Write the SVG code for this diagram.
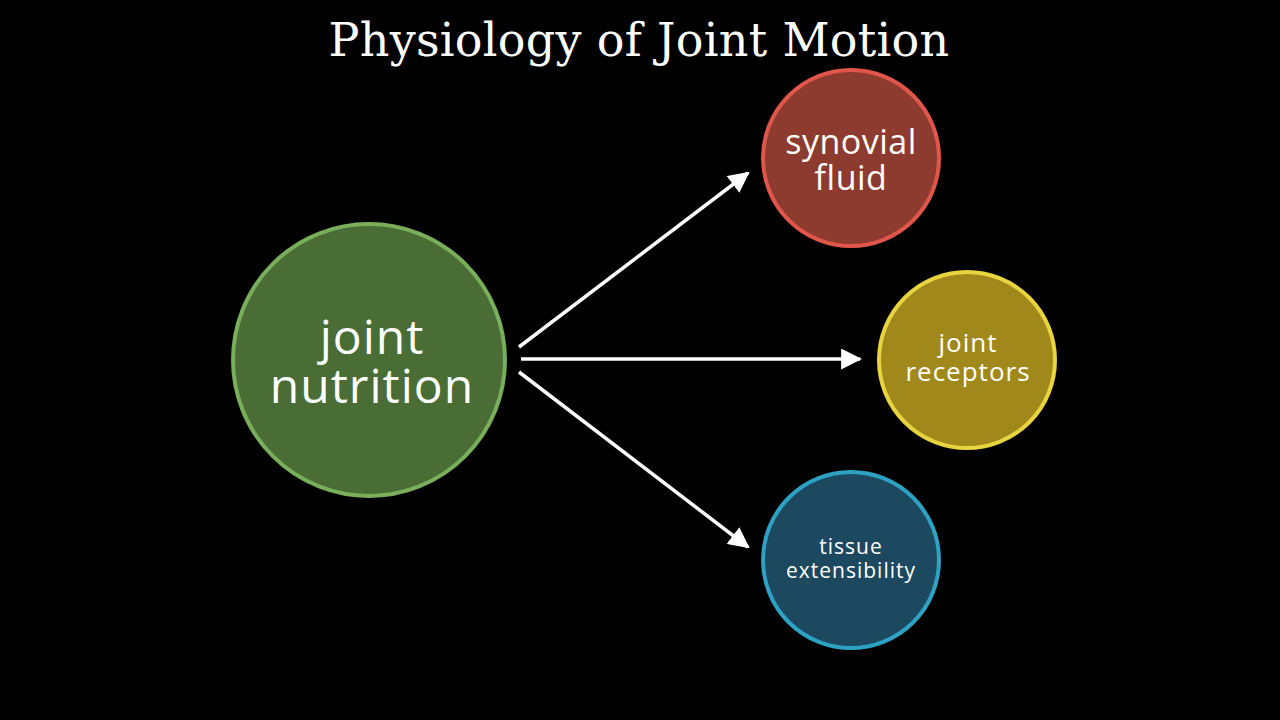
<svg xmlns="http://www.w3.org/2000/svg" width="1280" height="720" viewBox="0 0 1280 720">
<style>
.t{font-family:"Open Sans","Noto Sans",sans-serif;fill:#fff;text-anchor:middle}
.c{stroke-width:4}
.a{stroke:#fff;stroke-width:3.5;fill:none;marker-end:url(#ah)}
</style>
<defs><marker id="ah" viewBox="0 0 10 10" refX="9" refY="5" markerWidth="6" markerHeight="6" orient="auto" markerUnits="strokeWidth"><path d="M0,0L10,5L0,10z" fill="#fff"/></marker></defs>
<rect width="1280" height="720" fill="#000"/>
<text x="639" y="56" font-family="'DejaVu Serif','Liberation Serif',serif" font-size="46" fill="#fff" text-anchor="middle" letter-spacing="0.3">Physiology of Joint Motion</text>
<g id="connectors">
<line class="a" x1="519" y1="347" x2="748" y2="173"/>
<line class="a" x1="521" y1="359" x2="860" y2="359"/>
<line class="a" x1="519" y1="372" x2="748" y2="547"/>
</g>
<g id="joint-nutrition"><circle class="c" cx="369" cy="360" r="136" fill="#4a6d36" stroke="#79ae5a"/>
<text class="t" font-size="48" letter-spacing="1" x="372" y="354">joint</text><text class="t" font-size="48" letter-spacing="1" x="372" y="403">nutrition</text></g>
<g id="synovial-fluid"><circle class="c" cx="851" cy="158" r="88" fill="#8d3a2f" stroke="#e0564a"/>
<text class="t" font-size="34" letter-spacing="0.5" x="851" y="154">synovial</text><text class="t" font-size="34" letter-spacing="0.5" x="851" y="190">fluid</text></g>
<g id="joint-receptors"><circle class="c" cx="967" cy="360" r="88" fill="#a0891a" stroke="#e8d340"/>
<text class="t" font-size="26" letter-spacing="1" x="968" y="352">joint</text><text class="t" font-size="26" letter-spacing="1" x="968" y="381">receptors</text></g>
<g id="tissue-extensibility"><circle class="c" cx="851" cy="560" r="88" fill="#1d4960" stroke="#2da2c3"/>
<text class="t" font-size="21" letter-spacing="1" x="851" y="554">tissue</text><text class="t" font-size="21" letter-spacing="1" x="851" y="578">extensibility</text></g>
</svg>
